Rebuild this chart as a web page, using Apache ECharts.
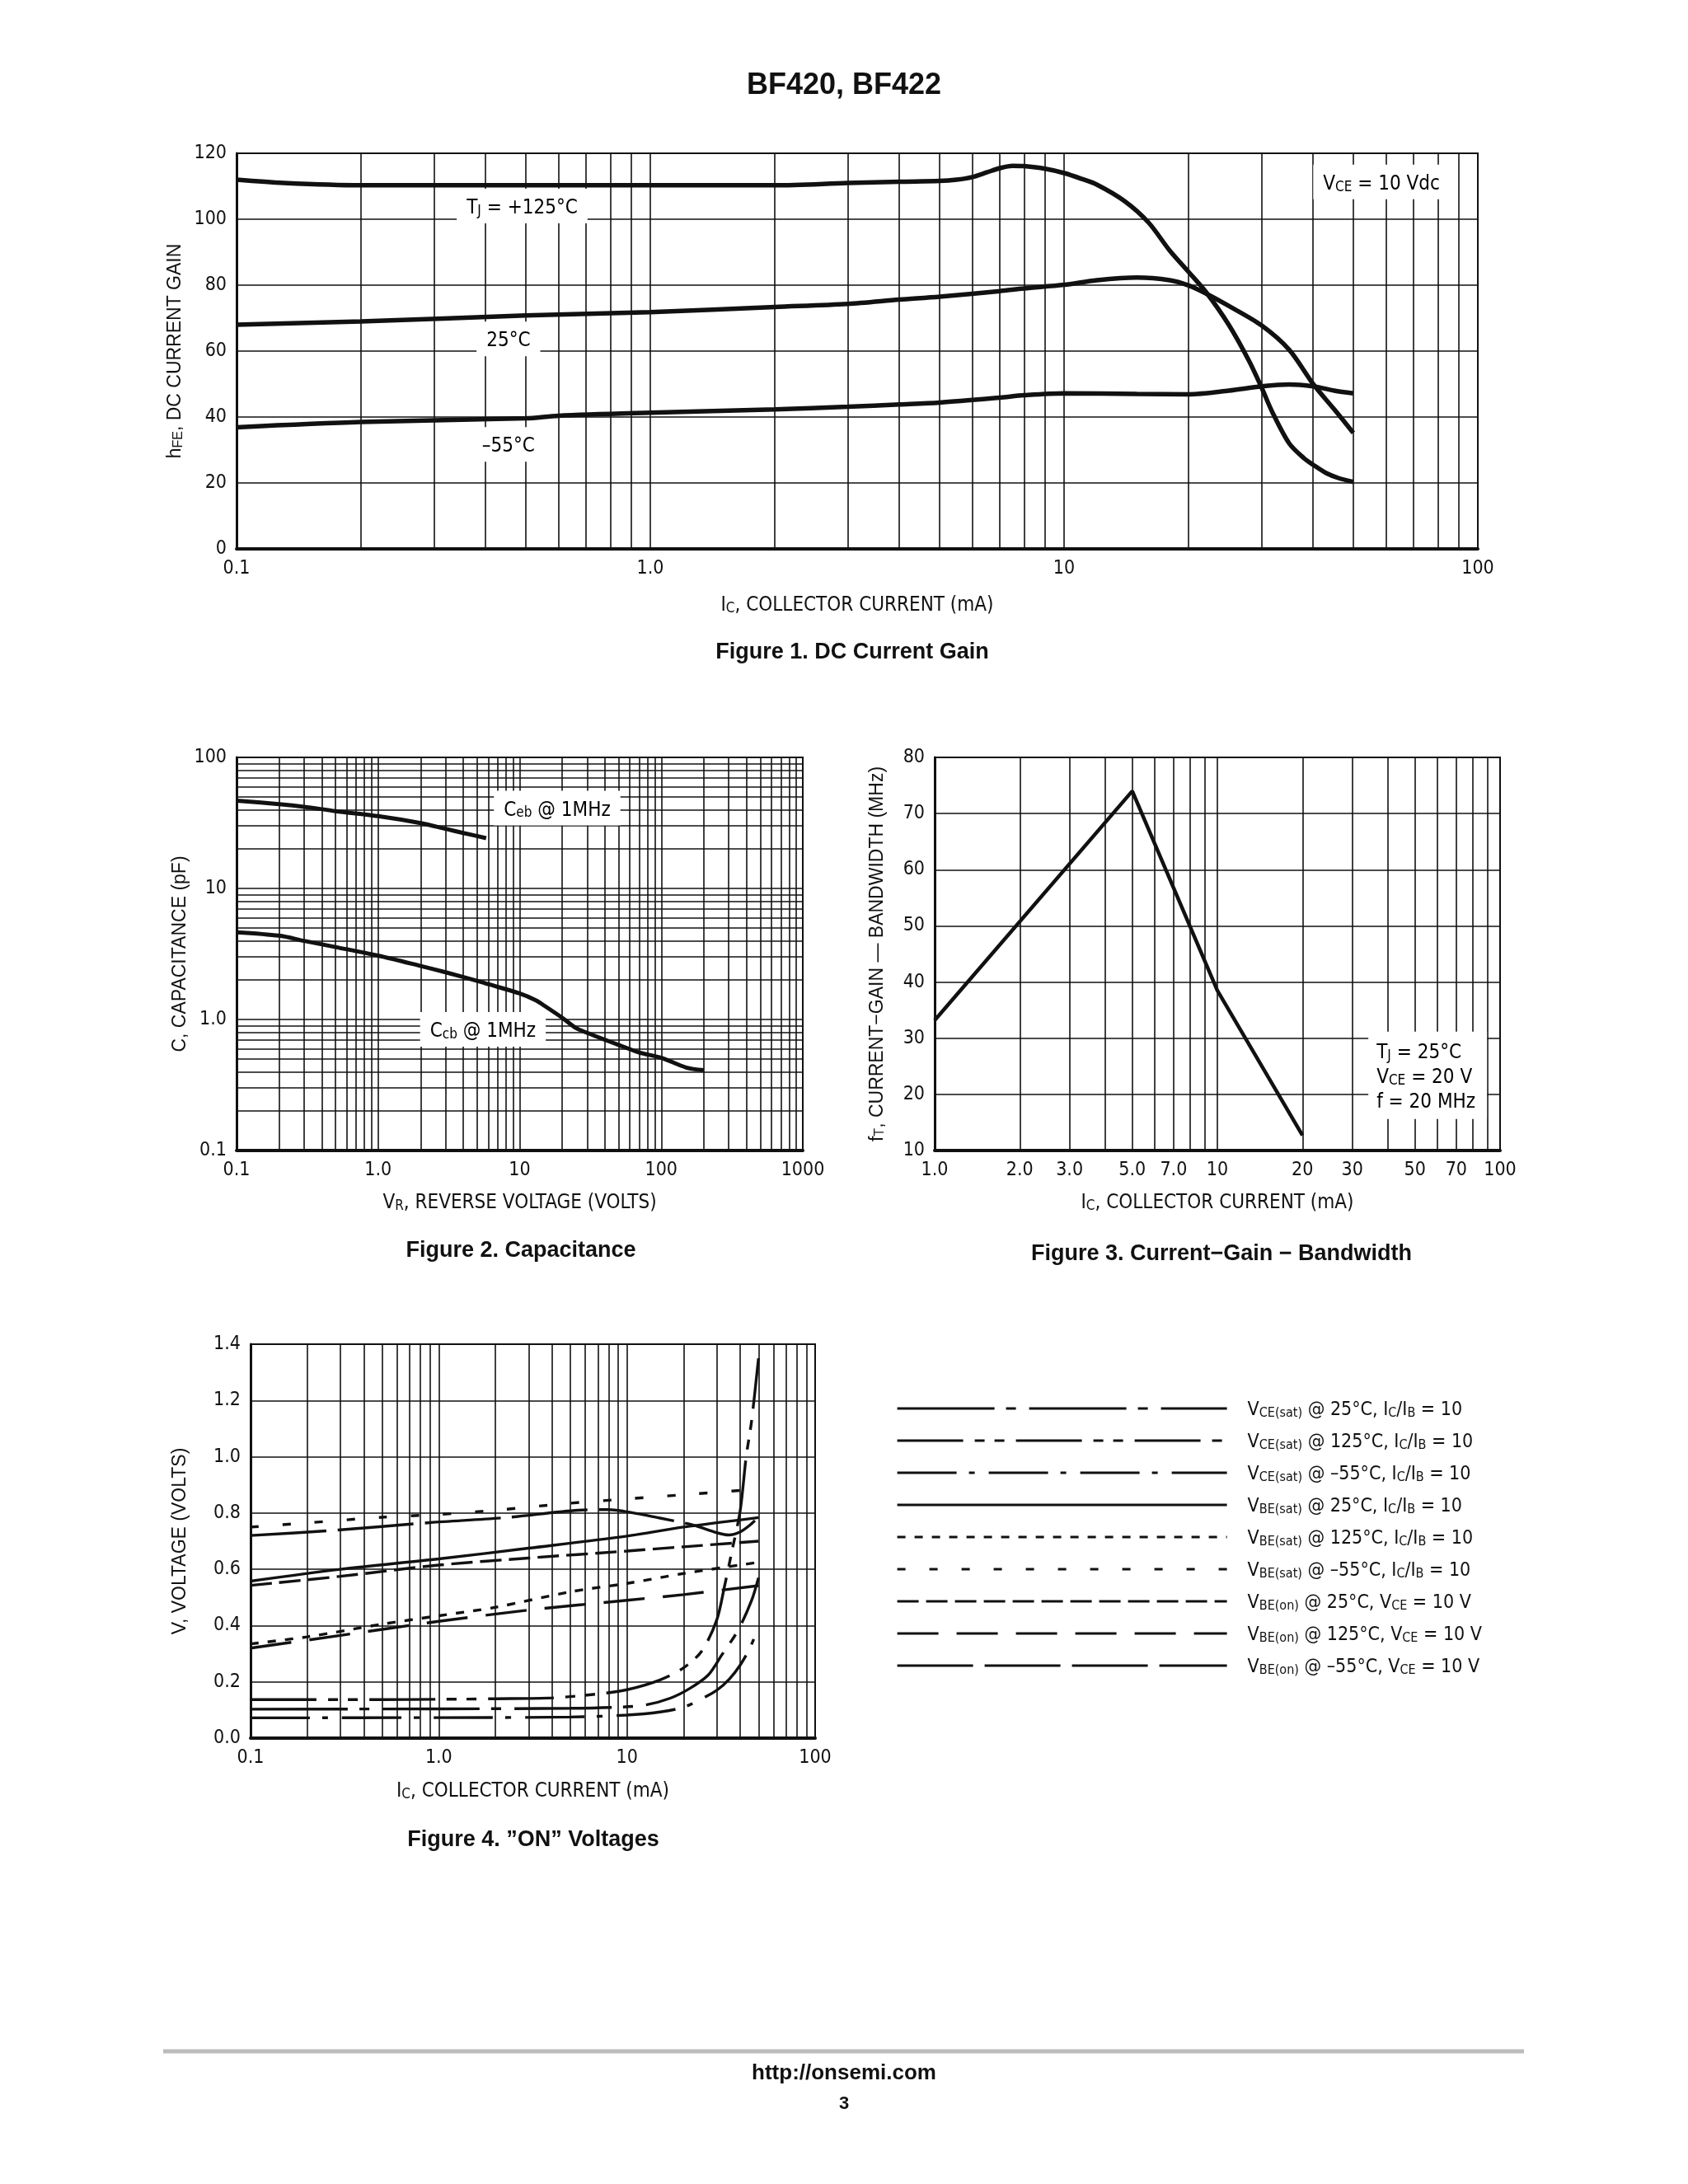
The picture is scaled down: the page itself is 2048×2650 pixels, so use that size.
<!DOCTYPE html>
<html><head><meta charset="utf-8">
<script src="https://cdn.jsdelivr.net/npm/echarts@6/dist/echarts.min.js"></script>
<style>html,body{margin:0;padding:0;background:#fff}#c{width:2048px;height:2650px}</style>
</head><body><div id="c"></div><script>
// ---------- Figure 1: DC current gain ----------
const f1Ic125 = [0.1,0.13,0.2,0.5,1,2,3,4,5,5.5,6,6.5,7,7.5,8,9,10,11,12,14,16,18,20,22,25,28,30,32,35,38,40,43,46,50];
const f1Hfe125 = [112,111,110.3,110.3,110.3,110.3,111,111.4,111.6,112,112.8,114.2,115.5,116.2,116.1,115.3,114,112.3,110.5,105.5,99,90.5,84,78,68,57,49,41,32,27.5,25.5,23,21.5,20.3];
const f1Ic25 = [0.1,0.2,0.5,1,2,3,4,5,7,8,10,12,15,18,20,22,25,30,35,40,45,50];
const f1Hfe25 = [68,69,70.8,71.8,73.4,74.3,75.6,76.5,78.2,79,80.1,81.5,82.3,81.5,79.9,77.5,73.7,67.8,60.4,50,42.3,35.2];
const f1IcM55 = [0.1,0.2,0.5,0.6,1,2,3,4,5,7,8,10,15,20,25,30,35,40,45,50];
const f1HfeM55 = [36.9,38.5,39.6,40.4,41.3,42.3,43.1,43.8,44.4,45.9,46.6,47.2,47,46.9,48,49.3,49.9,49.3,48,47.2];
const f1XLabels = [0.1,1,10,100];
const f1YMin = 0, f1YMax = 120, f1YStep = 20;

// ---------- Figure 2: capacitance ----------
const f2VrCeb = [0.1,0.2,0.3,0.5,1,2,3,4,5.8];
const f2Ceb = [46.8,44,42,38.9,35.6,31.5,28.5,26.5,24.2];
const f2VrCcb = [0.1,0.2,0.3,0.5,1,2,3,5,6,10,13,15,20,25,30,40,50,70,100,150,200];
const f2Ccb = [4.63,4.36,3.98,3.57,3.07,2.56,2.29,1.97,1.86,1.58,1.40,1.27,1.03,0.86,0.79,0.70,0.64,0.56,0.51,0.43,0.41];
const f2XLabels = [0.1,1,10,100,1000];
const f2YLabels = [0.1,1,10,100];

// ---------- Figure 3: current-gain bandwidth ----------
const f3Ic = [1,5,10,20];
const f3Ft = [33.2,74,38.5,12.7];
const f3XLabels = [1,2,3,5,7,10,20,30,50,70,100];
const f3YMin = 10, f3YMax = 80, f3YStep = 10;

// ---------- Figure 4: "ON" voltages ----------
const f4IcVceSat25 = [0.1,1,5,9,12.6,17,21.5,27,32,39,46,50];
const f4VceSat25 = [0.103,0.104,0.106,0.11,0.118,0.142,0.176,0.224,0.297,0.384,0.49,0.57];
const f4IcVceSat125 = [0.1,0.5,1,2,4,7,10,15,20,25,30,33,36,40,43,46,50];
const f4VceSat125 = [0.137,0.137,0.138,0.14,0.143,0.157,0.172,0.207,0.25,0.31,0.42,0.54,0.66,0.81,1.0,1.13,1.35];
const f4IcVceSatM55 = [0.1,1,5,10,15,20,25,30,35,40,45,50];
const f4VceSatM55 = [0.072,0.073,0.075,0.082,0.093,0.11,0.14,0.17,0.21,0.26,0.32,0.395];
const f4IcVbeSat25 = [0.1,0.3,1,3,10,20,50];
const f4VbeSat25 = [0.558,0.6,0.637,0.675,0.718,0.75,0.784];
const f4IcVbeSat125 = [0.1,0.2,0.5,1,2,5,10,20,50];
const f4VbeSat125 = [0.335,0.36,0.405,0.435,0.465,0.52,0.55,0.585,0.625];
const f4IcVbeSatM55 = [0.1,0.2,0.5,1,2,5,10,20,50];
const f4VbeSatM55 = [0.75,0.765,0.785,0.795,0.81,0.835,0.85,0.865,0.885];
const f4IcVbeOn25 = [0.1,0.3,1,3,10,20,50];
const f4VbeOn25 = [0.543,0.575,0.615,0.64,0.665,0.68,0.70];
const f4IcVbeOn125 = [0.1,0.3,1,3,10,20,50];
const f4VbeOn125 = [0.32,0.365,0.415,0.455,0.49,0.51,0.542];
const f4IcVbeOnM55 = [0.1,0.26,0.9,2.3,5.5,8,9.7,12,15,19,22.6,27,30,34.7,40,45,50];
const f4VbeOnM55 = [0.72,0.737,0.766,0.784,0.81,0.812,0.806,0.795,0.782,0.768,0.757,0.74,0.73,0.722,0.733,0.757,0.786];
const f4XLabels = [0.1,1,10,100];
const f4YMin = 0, f4YMax = 1.4, f4YStep = 0.2;

// ---------- helpers ----------
const NARROW = "'Liberation Sans Narrow','Arial Narrow','DejaVu Sans Condensed',sans-serif";
const REG = "'Liberation Sans',Arial,Helvetica,sans-serif";
const INK = '#111';
const zip = (xs, ys) => xs.map((x, i) => [x, ys[i]]);
function logGrid(fromExp, toExp) {
  const out = [];
  for (let e = fromExp; e < toExp; e++) for (let d = 1; d <= 9; d++) out.push(parseFloat((d * Math.pow(10, e)).toPrecision(6)));
  out.push(Math.pow(10, toExp));
  return out;
}
function richSet(size, sub, fam, lh) {
  const L = lh || size + 6;
  return {
    n: { fontSize: size, fontFamily: fam, lineHeight: L, verticalAlign: 'bottom', color: INK },
    s: { fontSize: sub, fontFamily: fam, lineHeight: Math.round(sub * 0.75), verticalAlign: 'bottom', color: INK },
    sp: { width: 20, fontSize: size, lineHeight: L }
  };
}
const clean = v => parseFloat(Number(v).toPrecision(6));
const fmtLog = v => { const r = clean(v); return r === 1 ? '1.0' : String(r); };
const fmtF3 = v => { const r = clean(v); return r < 10 ? r.toFixed(1) : String(r); };
const TICK = 23;

function logX(gi, min, max, labels, fmt, name, gap) {
  return {
    type: 'log', logBase: 10, gridIndex: gi, min, max,
    name, nameLocation: 'middle', nameGap: gap,
    nameTextStyle: { rich: richSet(24, 17, NARROW) },
    axisLine: { show: true, onZero: false, lineStyle: { color: INK, width: 4 } },
    axisTick: { show: false, customValues: logGrid(Math.round(Math.log10(min)), Math.round(Math.log10(max))) },
    axisLabel: { customValues: labels, formatter: fmt, fontFamily: NARROW, fontSize: TICK, color: INK, margin: 13 },
    splitLine: { show: true, lineStyle: { color: INK, width: 1.6 } }
  };
}
function valY(gi, min, max, step, fmt, name, gap) {
  return {
    type: 'value', gridIndex: gi, min, max, interval: step,
    name, nameLocation: 'middle', nameGap: gap,
    nameTextStyle: { rich: richSet(23, 16, REG) },
    axisLine: { show: true, onZero: false, lineStyle: { color: INK, width: 3 } },
    axisTick: { show: false },
    axisLabel: { formatter: fmt, fontFamily: NARROW, fontSize: TICK, color: INK, margin: 12 },
    splitLine: { show: true, lineStyle: { color: INK, width: 1.6 } }
  };
}
function line(name, xi, data, width, type, smooth) {
  return {
    type: 'line', name, xAxisIndex: xi, yAxisIndex: xi, data, symbol: 'none', smooth,
    lineStyle: { color: INK, width, type: type || 'solid' }, itemStyle: { color: INK },
    silent: true, z: 5
  };
}

const legendNames = ['VCEsat25','VCEsat125','VCEsatM55','VBEsat25','VBEsat125','VBEsatM55','VBEon25','VBEon125','VBEonM55'];
const legendText = {
  VCEsat25: '{sp| }{n|V}{s|CE(sat)}{n| @ 25°C, I}{s|C}{n|/I}{s|B}{n| = 10}',
  VCEsat125: '{sp| }{n|V}{s|CE(sat)}{n| @ 125°C, I}{s|C}{n|/I}{s|B}{n| = 10}',
  VCEsatM55: '{sp| }{n|V}{s|CE(sat)}{n| @ –55°C, I}{s|C}{n|/I}{s|B}{n| = 10}',
  VBEsat25: '{sp| }{n|V}{s|BE(sat)}{n| @ 25°C, I}{s|C}{n|/I}{s|B}{n| = 10}',
  VBEsat125: '{sp| }{n|V}{s|BE(sat)}{n| @ 125°C, I}{s|C}{n|/I}{s|B}{n| = 10}',
  VBEsatM55: '{sp| }{n|V}{s|BE(sat)}{n| @ –55°C, I}{s|C}{n|/I}{s|B}{n| = 10}',
  VBEon25: '{sp| }{n|V}{s|BE(on)}{n| @ 25°C, V}{s|CE}{n| = 10 V}',
  VBEon125: '{sp| }{n|V}{s|BE(on)}{n| @ 125°C, V}{s|CE}{n| = 10 V}',
  VBEonM55: '{sp| }{n|V}{s|BE(on)}{n| @ –55°C, V}{s|CE}{n| = 10 V}'
};
const dash = {
  VCEsat25: [118, 14, 12, 16], VCEsat125: [80, 14, 12, 12, 12, 14], VCEsatM55: [72, 15, 7, 17],
  VBEsat25: 'solid', VBEsat125: [10, 11], VBEsatM55: [10, 29],
  VBEon25: [26, 9], VBEon125: [50, 22], VBEonM55: [92, 14]
};

const chart = echarts.init(document.getElementById('c'), null, { renderer: 'canvas', width: 2048, height: 2650 });

const gridBase = { show: true, borderColor: INK, borderWidth: 2, backgroundColor: 'transparent', containLabel: false, outerBoundsMode: 'none' };

const option = {
  animation: false,
  backgroundColor: '#fff',
  grid: [
    Object.assign({ left: 287, top: 186, width: 1506, height: 480 }, gridBase),
    Object.assign({ left: 287, top: 919, width: 687, height: 477 }, gridBase),
    Object.assign({ left: 1134, top: 919, width: 686, height: 477 }, gridBase),
    Object.assign({ left: 304, top: 1631, width: 685, height: 478 }, gridBase)
  ],
  xAxis: [
    logX(0, 0.1, 100, f1XLabels, fmtLog, '{n|I}{s|C}{n|, COLLECTOR CURRENT (mA)}', 51),
    logX(1, 0.1, 1000, f2XLabels, fmtLog, '{n|V}{s|R}{n|, REVERSE VOLTAGE (VOLTS)}', 46),
    logX(2, 1, 100, f3XLabels, fmtF3, '{n|I}{s|C}{n|, COLLECTOR CURRENT (mA)}', 46),
    logX(3, 0.1, 100, f4XLabels, fmtLog, '{n|I}{s|C}{n|, COLLECTOR CURRENT (mA)}', 47)
  ],
  yAxis: [
    valY(0, f1YMin, f1YMax, f1YStep, v => String(v), '{n|h}{s|FE}{n|, DC CURRENT GAIN}', 57),
    Object.assign(valY(1, 0.1, 100, 1, fmtLog, '{n|C, CAPACITANCE (pF)}', 57), {
      type: 'log', logBase: 10, interval: undefined,
      axisTick: { show: false, customValues: logGrid(-1, 2) },
      axisLabel: { customValues: f2YLabels, formatter: fmtLog, fontFamily: NARROW, fontSize: TICK, color: INK, margin: 12 }
    }),
    valY(2, f3YMin, f3YMax, f3YStep, v => String(v), '{n|f}{s|T}{n|, CURRENT−GAIN — BANDWIDTH (MHz)}', 58),
    valY(3, f4YMin, f4YMax, f4YStep, v => Number(v).toFixed(1), '{n|V, VOLTAGE (VOLTS)}', 74)
  ],
  legend: {
    data: legendNames, orient: 'vertical', left: 1087, top: 1697, padding: 0,
    itemWidth: 400, itemHeight: 30, itemGap: 13, selectedMode: false,
    itemStyle: { opacity: 0 },
    lineStyle: { width: 3.2, type: 'inherit', color: INK },
    formatter: n => legendText[n],
    textStyle: { rich: richSet(23, 16, NARROW, 28) }
  },
  series: [
    line('hFE 125°C', 0, zip(f1Ic125, f1Hfe125), 5.5, 'solid', 0.3),
    line('hFE 25°C', 0, zip(f1Ic25, f1Hfe25), 5.5, 'solid', 0.3),
    line('hFE -55°C', 0, zip(f1IcM55, f1HfeM55), 5.5, 'solid', 0.3),
    line('Ceb', 1, zip(f2VrCeb, f2Ceb), 5, 'solid', 0.3),
    line('Ccb', 1, zip(f2VrCcb, f2Ccb), 5, 'solid', 0.3),
    line('fT', 2, zip(f3Ic, f3Ft), 4.5, 'solid', false),
    line('VCEsat25', 3, zip(f4IcVceSat25, f4VceSat25), 3.4, dash.VCEsat25, 0.3),
    line('VCEsat125', 3, zip(f4IcVceSat125, f4VceSat125), 3.4, dash.VCEsat125, 0.3),
    line('VCEsatM55', 3, zip(f4IcVceSatM55, f4VceSatM55), 3.4, dash.VCEsatM55, 0.3),
    line('VBEsat25', 3, zip(f4IcVbeSat25, f4VbeSat25), 3.4, dash.VBEsat25, 0.3),
    line('VBEsat125', 3, zip(f4IcVbeSat125, f4VbeSat125), 3.4, dash.VBEsat125, 0.3),
    line('VBEsatM55', 3, zip(f4IcVbeSatM55, f4VbeSatM55), 3.4, dash.VBEsatM55, 0.3),
    line('VBEon25', 3, zip(f4IcVbeOn25, f4VbeOn25), 3.4, dash.VBEon25, 0.3),
    line('VBEon125', 3, zip(f4IcVbeOn125, f4VbeOn125), 3.4, dash.VBEon125, 0.3),
    line('VBEonM55', 3, zip(f4IcVbeOnM55, f4VbeOnM55), 3.4, dash.VBEonM55, 0.3)
  ]
};
chart.setOption(option);

// ---------- text annotations (positioned in data space) ----------
const annotations = [
  { g: 0, at: [0.49, 104], text: '{n|T}{s|J}{n| = +125°C}', align: 'center' },
  { g: 0, at: [0.454, 63.7], text: '{n|25°C}', align: 'center' },
  { g: 0, at: [0.454, 31.7], text: '{n|–55°C}', align: 'center' },
  { g: 0, at: [58.5, 111.3], text: '{n|V}{s|CE}{n| = 10 Vdc}', align: 'center' },
  { g: 1, at: [18.4, 41], text: '{n|C}{s|eb}{n| @ 1MHz}', align: 'center' },
  { g: 1, at: [5.5, 0.84], text: '{n|C}{s|cb}{n| @ 1MHz}', align: 'center' },
  { g: 2, at: [34.2, 23.4], text: '{n|T}{s|J}{n| = 25°C}\n{n|V}{s|CE}{n| = 20 V}\n{n|f = 20 MHz}', align: 'left' }
];
const gfx = [];
annotations.forEach((a, i) => {
  const p = chart.convertToPixel({ xAxisIndex: a.g, yAxisIndex: a.g }, a.at);
  gfx.push({
    type: 'text', id: 'ann' + i, x: p[0], y: p[1], z: 50,
    style: {
      text: a.text, rich: richSet(24, 17, NARROW), align: a.align, verticalAlign: 'middle',
      backgroundColor: '#fff', padding: a.align === 'left' ? [8, 14, 8, 10] : [6, 12, 6, 12]
    }
  });
});
const titleTexts = [
  { x: 1024, y: 104, text: 'BF420, BF422', size: 36 },
  { x: 1034, y: 792, text: 'Figure 1. DC Current Gain', size: 27 },
  { x: 632, y: 1518, text: 'Figure 2. Capacitance', size: 27 },
  { x: 1482, y: 1522, text: 'Figure 3. Current−Gain − Bandwidth', size: 27 },
  { x: 647, y: 2233, text: 'Figure 4. ”ON” Voltages', size: 27 },
  { x: 1024, y: 2516, text: 'http://onsemi.com', size: 26 },
  { x: 1024, y: 2553, text: '3', size: 22 }
];
titleTexts.forEach((t, i) => gfx.push({
  type: 'text', id: 'tt' + i, x: t.x, y: t.y, z: 50,
  style: { text: t.text, fontFamily: REG, fontWeight: 'bold', fontSize: t.size, fill: INK, align: 'center', verticalAlign: 'middle' }
}));
gfx.push({ type: 'line', id: 'footerRule', z: 50, shape: { x1: 198, y1: 2489, x2: 1849, y2: 2489 }, style: { stroke: '#bcbcbc', lineWidth: 5 } });
chart.setOption({ graphic: gfx });
</script></body></html>
